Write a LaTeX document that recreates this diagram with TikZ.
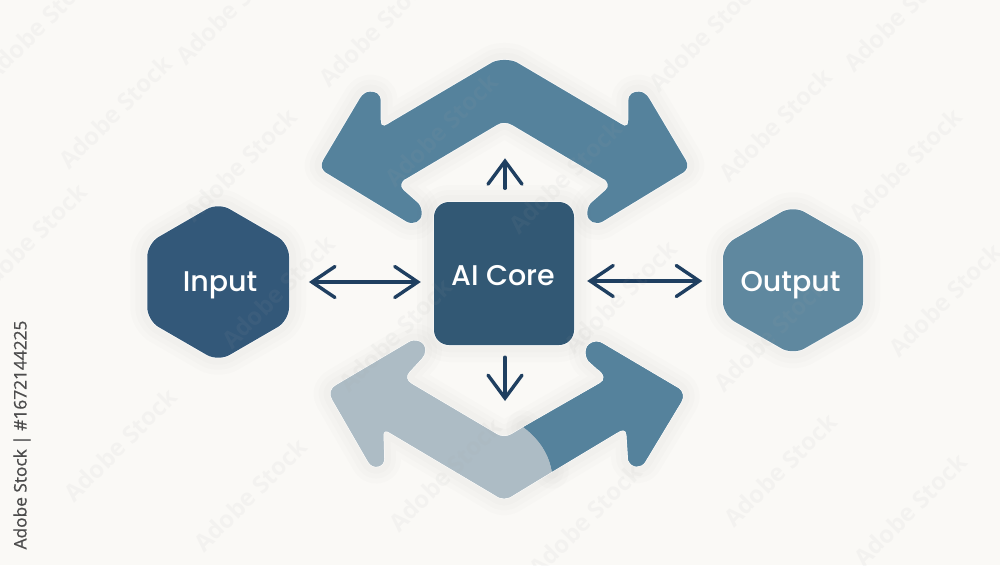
\documentclass[tikz,border=0pt]{standalone}
\usepackage{fontspec}
\setmainfont{Poppins}
\newfontfamily\labelfont{Poppins Medium}
\newfontfamily\markfont[BoldFont={Open Sans Bold}]{Open Sans}
\newfontfamily\idfont[FakeBold=0.8]{Open Sans}
\usetikzlibrary{arrows.meta}
\definecolor{bgc}{HTML}{FAF9F6}
\definecolor{navy}{HTML}{335879}
\definecolor{corec}{HTML}{325874}
\definecolor{teal}{HTML}{55829C}
\definecolor{outc}{HTML}{5F889F}
\definecolor{pale}{HTML}{ADBCC5}
\definecolor{linec}{HTML}{1F3F60}
\tikzset{
  softedge/.style={
    preaction={draw=black!60,draw opacity=.014,line width=34pt,line join=round},
    preaction={draw=black!60,draw opacity=.016,line width=24pt,line join=round},
    preaction={draw=black!60,draw opacity=.018,line width=14pt,line join=round},
    preaction={draw=white,draw opacity=.7,line width=1.5pt,line join=round}},
  plate/.style={softedge,fill=#1},
  corebox/.style={plate=corec,rounded corners=15pt,minimum width=140pt,minimum height=143pt,inner sep=0pt},
  anchorbox/.style={minimum width=141pt,minimum height=143pt,inner sep=0pt},
  lab/.style={text=white,font=\labelfont\fontsize{28.5}{29}\selectfont,text height=21pt,text depth=0pt},
  flow/.style={draw=linec,line width=3.4pt,line cap=round,line join=round},
  twohead/.style={flow,{Straight Barb[length=23pt,width=31pt,line cap=round,line join=miter]}-{Straight Barb[length=23pt,width=31pt,line cap=round,line join=miter]}},
  onehead/.style={flow,-{Straight Barb[length=23pt,width=34pt,line cap=round,line join=miter]}},
  wmark/.style={text=gray!70,opacity=.075,rotate=45,font=\markfont\bfseries\fontsize{24}{24}\selectfont},
  stockid/.style={text=black!70,rotate=90,font=\idfont\fontsize{17.3}{18}\selectfont}
}
\newcommand{\lowerteal}{(523.3,427.3) -- (600,383.3) .. controls (605.5,380.5) and (605.5,374) .. (596.7,368.3)
 -- (588.7,361) .. controls (584,355) and (584,343) .. (596,341.7)
 .. controls (598.5,341.5) and (601,342.5) .. (603.3,344)
 -- (678.3,388.3) .. controls (683,391.5) and (684,397) .. (681,402)
 -- (645,461.7) .. controls (641,468) and (632,468.5) .. (628.3,460)
 -- (626.7,435) .. controls (626.5,429) and (622,429) .. (616.7,432.7)
 -- (551.7,471.7) .. controls (549,455) and (540,440) .. (523.3,427.3) -- cycle}
\newcommand{\lowerpale}{(551.7,471.7) -- (513.3,495) .. controls (507,499.5) and (501,499.5) .. (495,495)
 -- (390,432.7) .. controls (386,430) and (383,431) .. (383.3,435)
 -- (384,458.3) .. controls (384.5,467) and (373,470) .. (368.3,461.7)
 -- (332.7,400) .. controls (329,394) and (330,389) .. (336.7,385)
 -- (408.3,342.7) .. controls (415,338) and (425,342) .. (425,350)
 .. controls (425,353) and (424,356) .. (421.7,358.3)
 -- (409.3,371.7) .. controls (405.5,375.5) and (406,381) .. (411.7,384)
 -- (496.7,434.3) .. controls (501,437) and (507,437) .. (511.7,434.3)
 -- (523.3,427.3) .. controls (540,440) and (549,455) .. (551.7,471.7) -- cycle}
\begin{document}
\begin{tikzpicture}[x=1pt,y=-1pt]
\useasboundingbox (0,0) rectangle (1000,565);
\fill[bgc] (0,0) rectangle (1000,565);

% upper chevron arrow
\path[plate=teal] (491.7,62.7) .. controls (498,59) and (511,59) .. (517.3,62.7)
 -- (617.3,121.7) .. controls (622,124.5) and (628.3,130) .. (628.3,120)
 -- (628.3,101.7) .. controls (628.3,93) and (634,91.7) .. (639,91.7)
 .. controls (643.5,91.7) and (647,95) .. (649,98.3)
 -- (685.7,160) .. controls (688.5,165) and (688.5,170) .. (680.7,174)
 -- (602.3,221.7) .. controls (596,225) and (587.3,222) .. (587.3,213.3)
 .. controls (587.3,209) and (589,205.5) .. (590.7,203.3)
 -- (605.7,190) .. controls (609,187) and (609,181) .. (602.3,178.3)
 -- (512.3,125) .. controls (507,122) and (501,122) .. (496.7,125)
 -- (406.7,178.3) .. controls (400,181) and (400,187) .. (403.3,190)
 -- (418.3,203.3) .. controls (420,205.5) and (421.7,209) .. (421.7,213.3)
 .. controls (421.7,222) and (413,225) .. (406.7,221.7)
 -- (328.3,174) .. controls (320.5,170) and (320.5,165) .. (323.3,160)
 -- (360,98.3) .. controls (362,95) and (365.5,91.7) .. (370,91.7)
 .. controls (375,91.7) and (380.7,93) .. (380.7,101.7)
 -- (380.7,120) .. controls (380.7,130) and (387,124.5) .. (391.7,121.7) -- cycle;

% lower chevron arrow: soft edge for both parts, then clean fills meeting without a seam
\path[plate=teal] \lowerteal;
\path[plate=pale] \lowerpale;
\fill[teal] \lowerteal;
\fill[pale] \lowerpale;

% hexagons
\path[plate=navy,rounded corners=13pt] (218.2,202.5) -- (289,243.5) -- (289,320.5) -- (218.2,361.5) -- (147.3,320.5) -- (147.3,243.5) -- cycle;
\path[plate=outc,rounded corners=13pt] (793,205.5) -- (863,245.5) -- (863,315) -- (793,355) -- (723,315) -- (723,245.5) -- cycle;

\node[anchorbox] (input) at (218.2,282) {};
\node[anchorbox] (output) at (793,281) {};
\node[corebox] (core) at (504,273.5) {};
\node[lab,anchor=base] (inputtext) at (220,291.7) {Input};
\node[lab,anchor=base] (outputtext) at (790.5,291.7) {Output};
\node[lab,anchor=base] (coretext) at (503,285) {AI Core};

% connectors
\coordinate (upend) at (505,158.3);
\coordinate (downend) at (505,401);
\draw[twohead,shorten <=20pt,shorten >=13pt] (input) -- (input -| core.west);
\draw[twohead,shorten <=13pt,shorten >=20pt] (output -| core.east) -- (output.west);
\draw[onehead,shorten <=13.5pt] (core.north -| upend) -- (upend);
\draw[onehead,shorten <=12pt] (core.south -| downend) -- (downend);

% stock marks
\foreach \wx/\wy in {40/25,115/112,240/165,232/8,375/30,441/130,565/177,705/35,775/125,905/165,900/15,945/300,278/292,395/335,620/297,770/335,120/445,250/495,445/475,585/520,780/470,910/510,30/240}
  \node[wmark] at (\wx,\wy) {Adobe Stock};
\node[stockid] (stockline) at (22,435) {Adobe Stock | \#1672144225};
\end{tikzpicture}
\end{document}
